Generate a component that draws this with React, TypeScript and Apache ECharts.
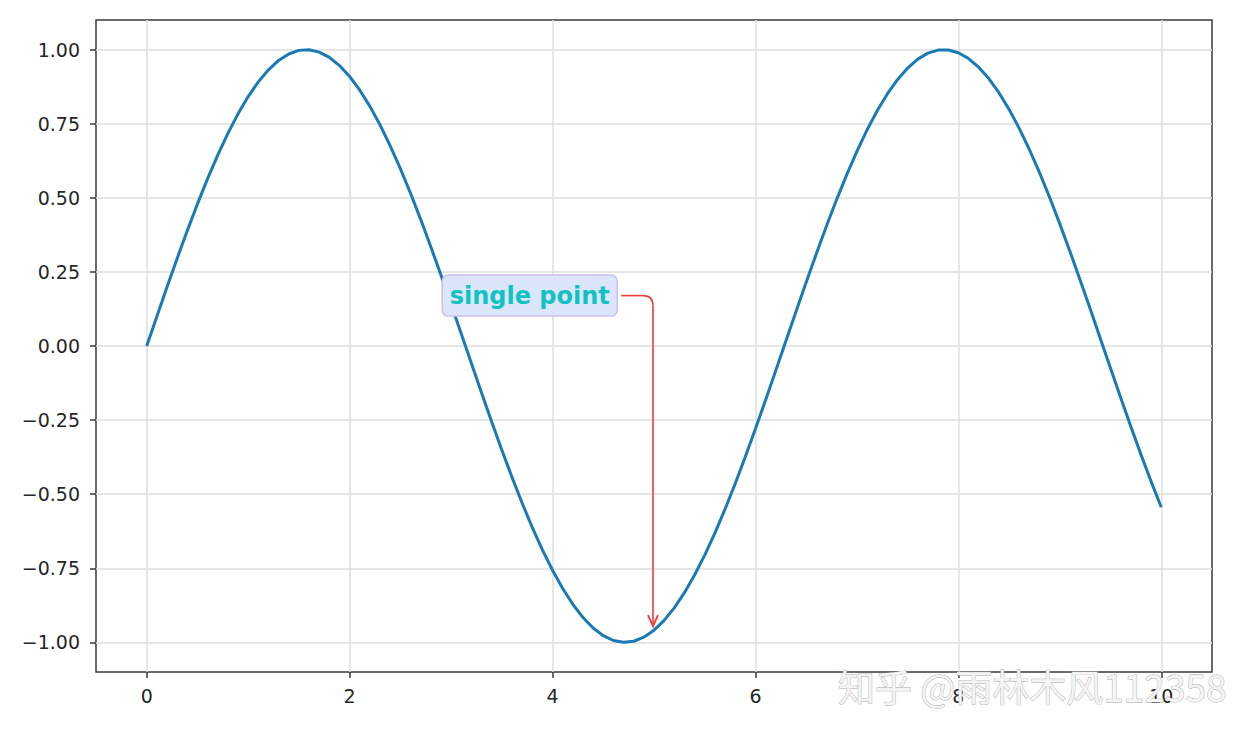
import React, { useEffect, useRef } from "react";
import * as echarts from "echarts";

const xValues = [
  0, 0.1, 0.2, 0.3, 0.4, 0.5, 0.6, 0.7, 0.8, 0.9, 1, 1.1, 1.2, 1.3, 1.4, 1.5, 1.6, 1.7, 1.8, 1.9,
  2, 2.1, 2.2, 2.3, 2.4, 2.5, 2.6, 2.7, 2.8, 2.9, 3, 3.1, 3.2, 3.3, 3.4, 3.5, 3.6, 3.7, 3.8, 3.9,
  4, 4.1, 4.2, 4.3, 4.4, 4.5, 4.6, 4.7, 4.8, 4.9, 5, 5.1, 5.2, 5.3, 5.4, 5.5, 5.6, 5.7, 5.8, 5.9,
  6, 6.1, 6.2, 6.3, 6.4, 6.5, 6.6, 6.7, 6.8, 6.9, 7, 7.1, 7.2, 7.3, 7.4, 7.5, 7.6, 7.7, 7.8, 7.9,
  8, 8.1, 8.2, 8.3, 8.4, 8.5, 8.6, 8.7, 8.8, 8.9, 9, 9.1, 9.2, 9.3, 9.4, 9.5, 9.6, 9.7, 9.8, 9.9, 10,
];
const yValues = [
  0, 0.0998, 0.1987, 0.2955, 0.3894, 0.4794, 0.5646, 0.6442, 0.7174, 0.7833,
  0.8415, 0.8912, 0.932, 0.9636, 0.9854, 0.9975, 0.9996, 0.9917, 0.9738, 0.9463,
  0.9093, 0.8632, 0.8085, 0.7457, 0.6755, 0.5985, 0.5155, 0.4274, 0.335, 0.2392,
  0.1411, 0.0416, -0.0584, -0.1577, -0.2555, -0.3508, -0.4425, -0.5298, -0.6119, -0.6878,
  -0.7568, -0.8183, -0.8716, -0.9162, -0.9516, -0.9775, -0.9937, -0.9999, -0.9962, -0.9825,
  -0.9589, -0.9258, -0.8835, -0.8323, -0.7728, -0.7055, -0.6313, -0.5507, -0.4646, -0.3739,
  -0.2794, -0.1822, -0.0831, 0.0168, 0.1165, 0.2151, 0.3115, 0.4048, 0.4941, 0.5784,
  0.657, 0.729, 0.7937, 0.8504, 0.8987, 0.938, 0.9679, 0.9882, 0.9985, 0.9989,
  0.9894, 0.9699, 0.9407, 0.9022, 0.8546, 0.7985, 0.7344, 0.663, 0.5849, 0.501,
  0.4121, 0.3191, 0.2229, 0.1245, 0.0248, -0.0752, -0.1743, -0.2718, -0.3665, -0.4575, -0.544,
];
const xTicks = [0, 2, 4, 6, 8, 10];
const yTicks = [-1, -0.75, -0.5, -0.25, 0, 0.25, 0.5, 0.75, 1];
const annotationText = "single point";
const annotationPoint = [5, -0.959];
const annotationTextPos = [3.775, 0.17];
const watermark = "知乎 @雨林木风112358";

export default function App() {
  const ref = useRef<HTMLDivElement>(null);
  useEffect(() => {
    if (!ref.current) return;
    const chart = echarts.init(ref.current, null, { renderer: "svg" });
    const labelFont = { fontFamily: "DejaVu Sans", fontSize: 19, color: "#262626" };
    chart.setOption({
      animation: false,
      backgroundColor: "#fff",
      grid: { left: 96, top: 20, right: 48, bottom: 66, show: true, borderColor: "#3a3a3a", borderWidth: 1.5, backgroundColor: "transparent" },
      xAxis: {
        type: "value",
        min: -0.5,
        max: 10.5,
        axisLine: { show: false, onZero: false },
        axisTick: { show: true, customValues: xTicks, length: 6, lineStyle: { color: "#3a3a3a", width: 1.5 } },
        axisLabel: { customValues: xTicks, margin: 14, ...labelFont, formatter: (v: number) => String(v) },
        splitLine: { show: true, lineStyle: { color: "#dedede", width: 1.5 } },
      },
      yAxis: {
        type: "value",
        min: -1.1,
        max: 1.1,
        axisLine: { show: false, onZero: false },
        axisTick: { show: true, customValues: yTicks, length: 6, lineStyle: { color: "#3a3a3a", width: 1.5 } },
        axisLabel: {
          customValues: yTicks,
          margin: 16,
          ...labelFont,
          formatter: (v: number) => v.toFixed(2).replace("-", "\u2212"),
        },
        splitLine: { show: true, lineStyle: { color: "#dedede", width: 1.5 } },
      },
      series: [
        {
          type: "line",
          data: xValues.map((x, i) => [x, yValues[i]]),
          smooth: false,
          showSymbol: false,
          lineStyle: { color: "#1a7ab5", width: 3 },
          z: 3,
        },
      ],
    });

    const tip = chart.convertToPixel({ gridIndex: 0 }, annotationPoint) as number[];
    const tp = chart.convertToPixel({ gridIndex: 0 }, annotationTextPos) as number[];
    const boxW = 175;
    const boxH = 41;
    const bx = tp[0] - boxW / 2;
    const by = tp[1] - boxH / 2;
    const startX = bx + boxW + 4;
    const ax = tip[0] - 1;
    const tipY = tip[1] - 4;
    const r = 10;
    const arrowColor = "#f03a3a";
    chart.setOption({
      graphic: [
        {
          type: "rect",
          shape: { x: bx, y: by, width: boxW, height: boxH, r: 6 },
          style: { fill: "#dce6fb", stroke: "#cbbef0", lineWidth: 1.5 },
          z: 10,
        },
        {
          type: "text",
          x: tp[0],
          y: tp[1],
          style: { text: annotationText, fill: "#12c2c2", font: "bold 24px 'DejaVu Sans'", align: "center", verticalAlign: "middle" },
          z: 11,
        },
        {
          type: "line",
          shape: { x1: startX, y1: tp[1], x2: ax - r, y2: tp[1] },
          style: { stroke: arrowColor, lineWidth: 1.6 },
          z: 10,
        },
        {
          type: "bezierCurve",
          shape: { x1: ax - r, y1: tp[1], cpx1: ax, cpy1: tp[1], x2: ax, y2: tp[1] + r },
          style: { stroke: arrowColor, lineWidth: 1.6, fill: "none" },
          z: 10,
        },
        {
          type: "line",
          shape: { x1: ax, y1: tp[1] + r, x2: ax, y2: tipY },
          style: { stroke: arrowColor, lineWidth: 1.6 },
          z: 10,
        },
        {
          type: "polyline",
          shape: { points: [[ax - 5, tipY - 11], [ax, tipY], [ax + 5, tipY - 11]] },
          style: { stroke: arrowColor, lineWidth: 1.8, fill: "none" },
          z: 10,
        },
        {
          type: "text",
          x: 838,
          y: 686,
          style: {
            text: watermark,
            fill: "#f4f4f4",
            font: "37px 'Noto Sans CJK SC'",
            verticalAlign: "middle",
            shadowColor: "rgba(80,80,80,0.8)",
            shadowBlur: 2,
            shadowOffsetX: -1,
            shadowOffsetY: 1,
            stroke: "#a8a8a8",
            lineWidth: 0.8,
          },
          z: 20,
        },
      ],
    });
    return () => chart.dispose();
  }, []);
  return <div ref={ref} style={{ position: "absolute", left: 0, top: 0, width: 1260, height: 738 }} />;
}
